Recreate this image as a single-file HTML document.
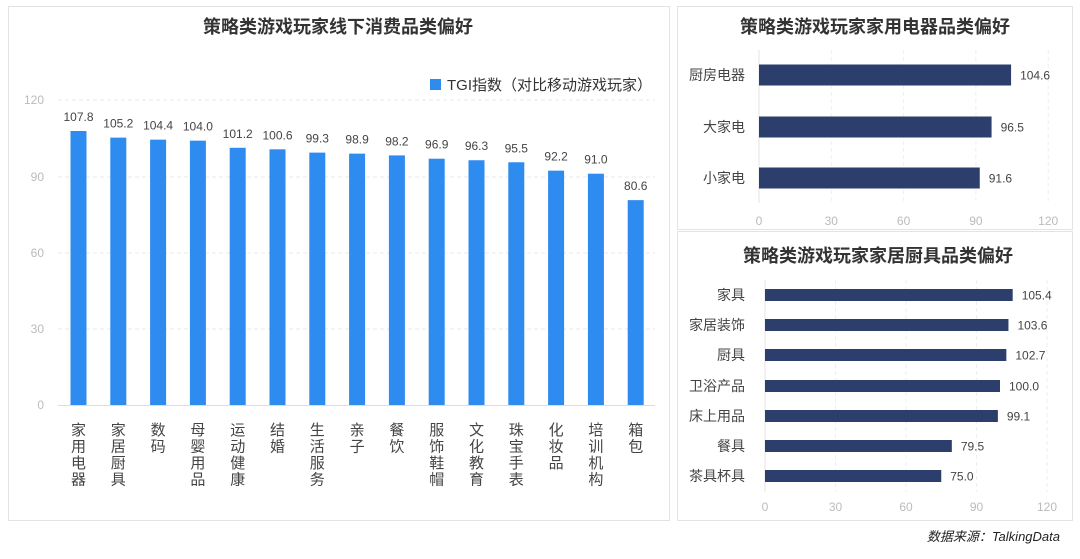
<!DOCTYPE html>
<html><head><meta charset="utf-8"><style>
body{margin:0;background:#fff;width:1080px;height:554px;overflow:hidden;font-family:"Liberation Sans","Noto Sans CJK SC",sans-serif;}
svg text{font-family:"Liberation Sans","Noto Sans CJK SC",sans-serif;}
</style></head><body>
<svg width="1080" height="554" xmlns="http://www.w3.org/2000/svg">
<rect x="8.5" y="6.5" width="661" height="514" fill="#fff" stroke="#e3e3e3"/>
<rect x="677.5" y="6.5" width="395" height="223" fill="#fff" stroke="#e3e3e3"/>
<rect x="677.5" y="231.5" width="395" height="289" fill="#fff" stroke="#e3e3e3"/>
<text x="338" y="33" text-anchor="middle" font-size="18" font-weight="bold" fill="#333">策略类游戏玩家线下消费品类偏好</text>
<rect x="430" y="79" width="11" height="11" fill="#2E8BEF"/>
<text x="447" y="90" font-size="15" fill="#333">TGI指数（对比移动游戏玩家）</text>
<g font-size="12" fill="#bbb" text-anchor="end">
<text x="44" y="104">120</text><text x="44" y="181">90</text><text x="44" y="257">60</text><text x="44" y="333">30</text><text x="44" y="409">0</text></g>
<g stroke="#e8e8e8" stroke-dasharray="4,3"><line x1="58" x2="655" y1="100" y2="100"/><line x1="58" x2="655" y1="177" y2="177"/><line x1="58" x2="655" y1="253" y2="253"/><line x1="58" x2="655" y1="329" y2="329"/></g>
<line x1="58" x2="655" y1="405.5" y2="405.5" stroke="#ddd"/>
<text x="875" y="33" text-anchor="middle" font-size="18" font-weight="bold" fill="#333">策略类游戏玩家家用电器品类偏好</text>
<text x="878" y="262" text-anchor="middle" font-size="18" font-weight="bold" fill="#333">策略类游戏玩家家居厨具品类偏好</text>
<text x="1060" y="541" text-anchor="end" font-size="13" font-style="italic" fill="#222">数据来源：TalkingData</text>
</svg>
<script>
const NS="http://www.w3.org/2000/svg",svg=document.querySelector('svg');
function el(t,a,txt){const e=document.createElementNS(NS,t);for(const k in a)e.setAttribute(k,a[k]);if(txt!=null)e.textContent=txt;svg.appendChild(e);return e;}
const L=[["家用电器",107.8],["家居厨具",105.2],["数码",104.4],["母婴用品",104.0],["运动健康",101.2],["结婚",100.6],["生活服务",99.3],["亲子",98.9],["餐饮",98.2],["服饰鞋帽",96.9],["文化教育",96.3],["珠宝手表",95.5],["化妆品",92.2],["培训机构",91.0],["箱包",80.6]];
L.forEach((d,i)=>{const cx=78.5+i*39.8,h=d[1]*305/120;
el('rect',{x:cx-8,y:405-h,width:16,height:h,fill:'#2E8BEF'});
el('text',{x:cx,y:405-h-10,'text-anchor':'middle','font-size':12,fill:'#444'},d[1].toFixed(1));
[...d[0]].forEach((c,j)=>el('text',{x:cx,y:435+j*16.5,'text-anchor':'middle','font-size':15,fill:'#444'},c));});
function hb(x0,k,axisY,top,bot,data,bh){
for(let v=0;v<=120;v+=30){const x=x0+v*k;
if(v>0)el('line',{x1:x,x2:x,y1:top,y2:bot,stroke:'#eee','stroke-dasharray':'4,3'});
el('text',{x:x,y:axisY,'text-anchor':'middle','font-size':12,fill:'#bbb'},v);}
el('line',{x1:x0,x2:x0,y1:top,y2:bot,stroke:'#e3e3e3'});
data.forEach(d=>{const w=d[1]*k;
el('rect',{x:x0,y:d[2]-bh/2,width:w,height:bh,fill:'#2C3E6B'});
el('text',{x:x0+w+9,y:d[2]+4.5,'font-size':12,fill:'#444'},d[1].toFixed(1));
el('text',{x:745,y:d[2]+5,'text-anchor':'end','font-size':14,fill:'#444'},d[0]);});}
hb(759,2.41,225,50,203,[["厨房电器",104.6,75],["大家电",96.5,127],["小家电",91.6,178]],21);
hb(765,2.35,511,280,492,[["家具",105.4,295],["家居装饰",103.6,325],["厨具",102.7,355],["卫浴产品",100.0,386],["床上用品",99.1,416],["餐具",79.5,446],["茶具杯具",75.0,476]],12);
</script>
</body></html>
